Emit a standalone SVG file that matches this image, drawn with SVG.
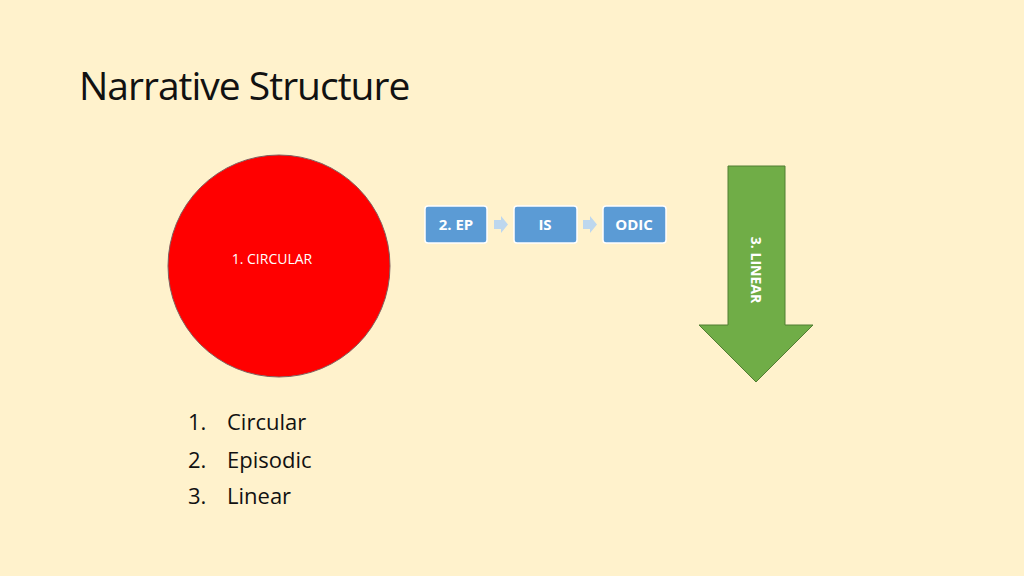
<svg xmlns="http://www.w3.org/2000/svg" width="1024" height="576" viewBox="0 0 1024 576">
<style>
text{font-family:"Open Sans","Liberation Sans",sans-serif}
.box{fill:#5b9bd5;stroke:#ffffff;stroke-width:1.5}
.bt{fill:#fff;font-size:15px;font-weight:bold;text-anchor:middle}
.sa{fill:#bdd7ee}
.li{font-size:22px;fill:#111}
</style>
<rect width="1024" height="576" fill="#fff2cc"/>
<text x="79" y="100" font-size="39" fill="#111" letter-spacing="-1">Narrative Structure</text>
<g id="circular">
<circle cx="279" cy="266" r="111" fill="#ff0000" stroke="#7f6060" stroke-width="1"/>
<text x="272" y="264" font-size="14" fill="#fff" text-anchor="middle">1.  CIRCULAR</text>
</g>
<g id="ep"><rect class="box" x="425" y="206" width="62" height="37" rx="3"/><text class="bt" x="456" y="230">2.  EP</text></g>
<g id="is"><rect class="box" x="514" y="206" width="63" height="37" rx="3"/><text class="bt" x="545" y="230">IS</text></g>
<g id="odic"><rect class="box" x="603" y="206" width="63" height="37" rx="3"/><text class="bt" x="634" y="230">ODIC</text></g>
<g id="connectors">
<polygon class="sa" points="494,220 501,220 501,216 508,224.5 501,233 501,229 494,229"/>
<polygon class="sa" points="583,220 590,220 590,216 597,224.5 590,233 590,229 583,229"/>
</g>
<g id="linear">
<polygon points="728,166 785,166 785,325 813,325 756,382 699,325 728,325" fill="#70ad47" stroke="#507e32" stroke-width="1"/>
<text transform="translate(751,270) rotate(90)" font-size="14" font-weight="bold" fill="#fff" text-anchor="middle">3.  LINEAR</text>
</g>
<g id="list">
<text class="li" x="188" y="430">1.</text><text class="li" x="227" y="430">Circular</text>
<text class="li" x="188" y="468">2.</text><text class="li" x="227" y="468">Episodic</text>
<text class="li" x="188" y="504">3.</text><text class="li" x="227" y="504">Linear</text>
</g>
</svg>
